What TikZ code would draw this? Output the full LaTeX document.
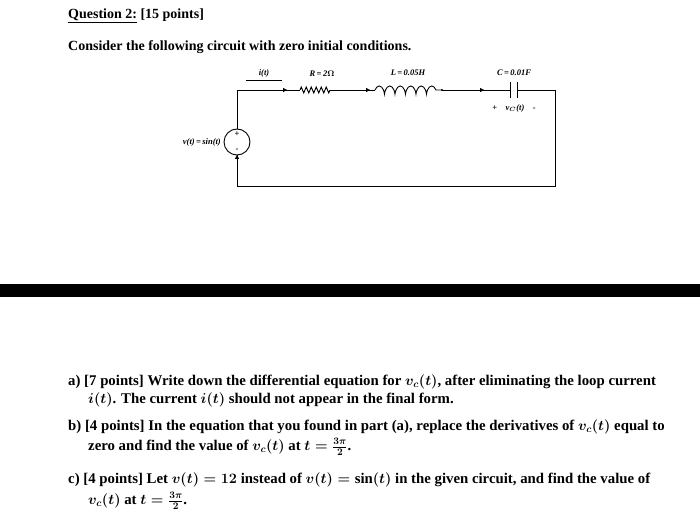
\documentclass[tikz,border=0pt]{standalone}
\usepackage{fontspec}
\setmainfont{Liberation Serif}
\usepackage{amsmath}
\usetikzlibrary{decorations.pathmorphing,arrows.meta}
\begin{document}
\boldmath
\begin{tikzpicture}[x=1pt,y=-1pt,
  txt/.style={anchor=west,inner sep=0,font=\bfseries\fontsize{14}{16}\selectfont},
  qtxt/.style={anchor=west,inner sep=0,font=\bfseries\fontsize{14.8}{16}\selectfont},
  small/.style={inner sep=1pt,font=\bfseries\fontsize{8.5}{9}\selectfont},
  wire/.style={line width=0.9pt},
  flow/.style={-{Triangle[length=4pt,width=4pt]}}]
\useasboundingbox (0,0) rectangle (700,529);
\fill[black] (0,284) rectangle (700,297);
\node[txt] (q) at (68,16) {\underline{Question 2:} [15 points]};
\node[txt] (c) at (68,47) {Consider the following circuit with zero initial conditions.};
% circuit
\coordinate (tl) at (237,90);
\coordinate (tr) at (555,90);
\coordinate (bl) at (237,186);
\coordinate (br) at (555,186);
\node[draw,wire,circle,minimum size=26pt,inner sep=0] (src) at (237,142) {};
\node[small] at (237,134) {+};
\node[small] at (237,150) {-};
\coordinate (r1) at (300,90); \coordinate (r2) at (330,90);
\coordinate (l1) at (375,90); \coordinate (l2) at (442,90);
\coordinate (c1) at (510,90); \coordinate (c2) at (517,90);
\draw[wire] (src.north) -- (tl) -- (r1);
\draw[wire,decorate,decoration={zigzag,segment length=5pt,amplitude=3pt}] (r1) -- (r2);
\draw[wire] (r2) -- (l1);
\draw[wire,decorate,decoration={coil,aspect=0.4,segment length=10.5pt,amplitude=4pt}] (l1) -- (l2);
\draw[wire] (l2) -- (c1);
\draw[wire] (c1)++(0,-8) -- ++(0,16);
\draw[wire] (c2)++(0,-8) -- ++(0,16);
\draw[wire] (c2) -- (tr) -- (br) -- (bl) -- (src.south);
\fill (l2) circle (1.2pt);
\draw[flow] (280,90) -- (287,90);
\draw[flow] (362,90) -- (370,90);
\draw[flow] (477,90) -- (484,90);
\draw[flow] (237,162) -- (237,155);
\draw[line width=1pt] (246,81) -- (282,81);
\node[small] at (264,73) {\itshape i(t)};
\node[small] at (322,74) {\itshape R\,=\,2$\Omega$};
\node[small] at (408,73) {\itshape L\,=\,0.05H};
\node[small] at (514,73) {\itshape C\,=\,0.01F};
\node[small] at (514,108) {+\quad \itshape v$_C$(t)\quad -};
\node[small,anchor=east] at (222,142) {\itshape v(t)\,=\,sin(t)};
% questions
\node[qtxt] (a1) at (68,382) {a) [7 points] Write down the differential equation for $v_c(t)$, after eliminating the loop current};
\node[qtxt] (a2) at (88,400) {$i(t)$. The current $i(t)$ should not appear in the final form.};
\node[qtxt] (b1) at (68,427) {b) [4 points] In the equation that you found in part (a), replace the derivatives of $v_c(t)$ equal to};
\node[qtxt] (b2) at (88,447) {zero and find the value of $v_c(t)$ at $t=\frac{3\pi}{2}$.};
\node[qtxt] (c1t) at (68,480) {c) [4 points] Let $v(t)=12$ instead of $v(t)=\sin(t)$ in the given circuit, and find the value of};
\node[qtxt] (c2t) at (88,501) {$v_c(t)$ at $t=\frac{3\pi}{2}$.};
\end{tikzpicture}
\end{document}
